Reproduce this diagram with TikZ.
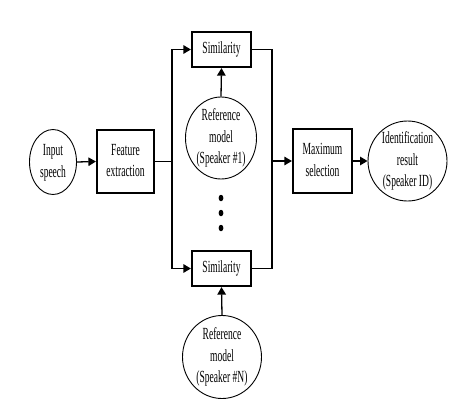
\documentclass[tikz,border=0pt]{standalone}
\usepackage{fontspec}
\setmainfont{Liberation Serif}
\usepackage{graphicx}
\usetikzlibrary{arrows.meta,shapes.geometric}
\newcommand\sqz[1]{\scalebox{0.56}[1]{\begin{tabular}{@{}c@{}}#1\end{tabular}}}
\tikzset{
  boxn/.style={draw, line width=2.2pt, inner sep=0pt},
  circn/.style={draw, ellipse, line width=0.9pt, inner sep=0pt},
  txt/.style={inner sep=0pt, font=\fontsize{17}{21.5}\selectfont},
  conn/.style={line width=1.3pt, -{Triangle[length=7.5pt,width=8.5pt]}},
  wire/.style={line width=1.3pt},
  dotn/.style={fill=black, ellipse, inner sep=0pt, minimum width=4.8pt, minimum height=6.5pt}
}
\begin{document}
\begin{tikzpicture}[x=1pt,y=-1pt]
\fill[white] (0,0) rectangle (474,415);
\useasboundingbox (0,0) rectangle (474,415);
% shapes
\node[circn, minimum width=47pt, minimum height=65pt] (in) at (53,162) {};
\node[txt] (intx) at (in) {\sqz{Input\\speech}};
\node[boxn, minimum width=57pt, minimum height=63pt] (fe) at (125.5,161.5) {};
\node[txt] (fetx) at (fe) {\sqz{Feature\\extraction}};
\node[boxn, minimum width=59pt, minimum height=35pt] (s1) at (221.5,49.5) {};
\node[txt] (s1tx) at (s1) {\sqz{Similarity}};
\node[circn, minimum width=71pt, minimum height=82pt] (r1) at (221,138) {};
\node[txt] (r1tx) at (r1) {\sqz{Reference\\model\\(Speaker \#1)}};
\node[boxn, minimum width=59pt, minimum height=35pt] (sN) at (221.5,268.5) {};
\node[txt] (sNtx) at (sN) {\sqz{Similarity}};
\node[circn, minimum width=79pt, minimum height=83pt] (rN) at (222,357) {};
\node[txt] (rNtx) at (rN) {\sqz{Reference\\model\\(Speaker \#N)}};
\node[boxn, minimum width=59pt, minimum height=64pt] (ms) at (322.5,161) {};
\node[txt] (mstx) at (ms) {\sqz{Maximum\\selection}};
\node[circn, minimum width=79pt, minimum height=80pt] (id) at (407.5,161) {};
\node[txt] (idtx) at (id) {\sqz{Identification\\result\\(Speaker ID)}};
% dots
\node[dotn] (d1) at (221,198) {};
\node[dotn] (d2) at (221,213) {};
\node[dotn] (d3) at (221,228) {};
% connectors
\coordinate (L) at (172,161.5);
\coordinate (R) at (272,161);
\draw[conn] (in.east) -- (fe.west);
\draw[wire] (fe.east) -- (L);
\draw[conn] (L) |- (s1.west);
\draw[conn] (L) |- (sN.west);
\draw[wire] (s1.east) -| (R);
\draw[wire] (sN.east) -| (R);
\draw[conn] (R) -- (ms.west);
\draw[conn] (ms.east) -- (id.west);
\draw[conn] (r1.north) -- (s1.south);
\draw[conn] (rN.north) -- (sN.south);
\end{tikzpicture}
\end{document}
